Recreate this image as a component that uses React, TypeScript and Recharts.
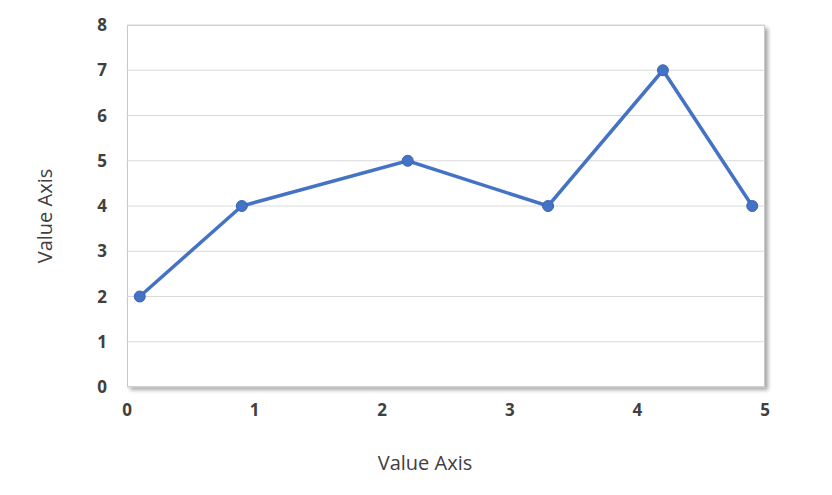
import React from 'react';
import { LineChart, Line, XAxis, YAxis, CartesianGrid, Label } from 'recharts';

const xValues = [0.1, 0.9, 2.2, 3.3, 4.2, 4.9];
const yValues = [2, 4, 5, 4, 7, 4];
const xTicks = [0, 1, 2, 3, 4, 5];
const yTicks = [0, 1, 2, 3, 4, 5, 6, 7, 8];
const xTitle = 'Value Axis';
const yTitle = 'Value Axis';

const data = xValues.map((x, i) => ({ x, y: yValues[i] }));

const W = 832;
const H = 495;
const margin = { top: 25, right: 67, bottom: 48, left: 0 };
const yAxisWidth = 127;
const xAxisHeight = 60;

const tickStyle = { fill: '#404040', fontSize: 17, fontWeight: 700, fontFamily: '"Open Sans", sans-serif' };
const titleStyle = { fill: '#404040', fontSize: 20, fontFamily: '"Open Sans", sans-serif' };

// axis titles sit a bit off the plot centre, as in the original
const XTitle = (props: any) => {
  const vb = props.viewBox;
  const cx = vb.x + vb.width / 2 - 21;
  return (
    <text x={cx} y={470} textAnchor="middle" style={titleStyle}>
      {xTitle}
    </text>
  );
};

const YTitle = (props: any) => {
  const vb = props.viewBox;
  const cy = vb.y + vb.height / 2 + 10;
  return (
    <text x={44} y={cy} textAnchor="middle" dominantBaseline="central" transform={`rotate(-90, 44, ${cy})`} style={titleStyle}>
      {yTitle}
    </text>
  );
};

export default function App() {
  const plotLeft = margin.left + yAxisWidth;
  const plotTop = margin.top;
  const plotW = W - plotLeft - margin.right;
  const plotH = H - margin.top - margin.bottom - xAxisHeight;
  return (
    <div style={{ position: 'absolute', left: 0, top: 0, width: W, height: H, background: '#fff' }}>
      <div
        style={{
          position: 'absolute',
          left: plotLeft,
          top: plotTop,
          width: plotW,
          height: plotH,
          boxSizing: 'border-box',
          border: '1px solid #c8c8c8',
          boxShadow: '3px 3px 4px rgba(0,0,0,0.35)',
          background: '#fff',
        }}
      />
      <div style={{ position: 'absolute', left: 0, top: 0 }}>
        <LineChart width={W} height={H} data={data} margin={margin}>
          <CartesianGrid vertical={false} stroke="#d9d9d9" strokeWidth={1} />
          <XAxis
            dataKey="x"
            type="number"
            domain={[0, 5]}
            ticks={xTicks}
            height={xAxisHeight}
            axisLine={false}
            tickLine={false}
            tickSize={0}
            tickMargin={17}
            tick={tickStyle}
          >
            <Label content={XTitle} />
          </XAxis>
          <YAxis
            dataKey="y"
            type="number"
            domain={[0, 8]}
            ticks={yTicks}
            width={yAxisWidth}
            axisLine={false}
            tickLine={false}
            tickSize={0}
            tickMargin={20}
            tick={tickStyle}
          >
            <Label content={YTitle} />
          </YAxis>
          <Line
            type="linear"
            dataKey="y"
            stroke="#4472C4"
            strokeWidth={3.5}
            dot={{ r: 5.5, fill: '#4472C4', stroke: '#3a65b3', strokeWidth: 1 }}
            isAnimationActive={false}
          />
        </LineChart>
      </div>
    </div>
  );
}
